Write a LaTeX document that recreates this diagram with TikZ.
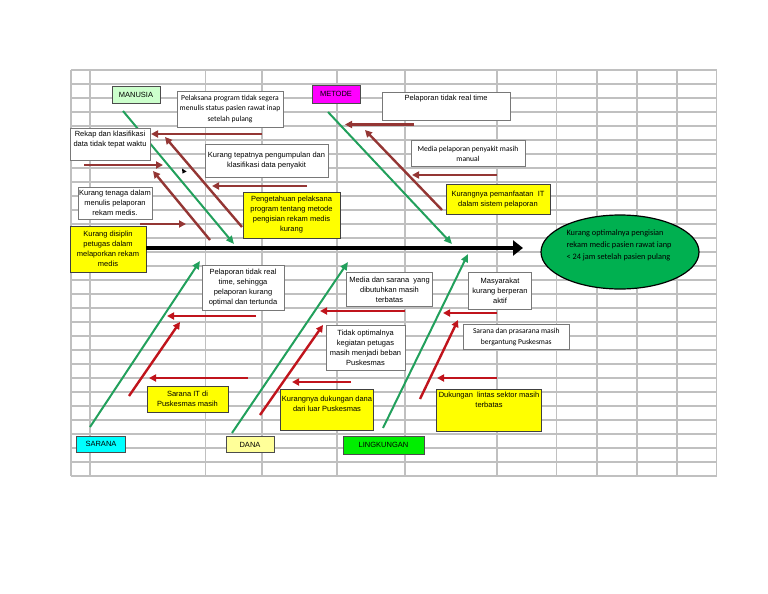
\documentclass[tikz,border=0pt]{standalone}
\usepackage{fontspec}
\setmainfont{Liberation Sans}
\newfontfamily\calibri{Carlito}
\usetikzlibrary{arrows.meta,shapes.geometric,positioning}
\definecolor{gridline}{RGB}{192,192,192}
\definecolor{bonegreen}{RGB}{34,160,92}
\definecolor{causebrown}{RGB}{148,54,52}
\definecolor{causered}{RGB}{192,20,28}
\definecolor{boxgray}{RGB}{120,120,120}
\definecolor{manusiafill}{RGB}{204,255,204}
\definecolor{metodefill}{RGB}{255,0,255}
\definecolor{saranafill}{RGB}{0,255,255}
\definecolor{danafill}{RGB}{255,255,153}
\definecolor{lingkunganfill}{RGB}{0,238,0}
\definecolor{effectfill}{RGB}{0,176,80}
\definecolor{notefill}{RGB}{255,255,0}

\tikzset{
  txt/.style={font=\fontsize{7.5}{10}\selectfont, align=center, inner sep=1pt},
  calibritxt/.style={font=\calibri\fontsize{7.6}{10.5}\selectfont, align=center, inner sep=1pt},
  whitebox/.style={draw=boxgray, line width=0.9pt, fill=white, inner sep=0pt},
  yellowbox/.style={draw=black!75, line width=0.9pt, fill=notefill, inner sep=0pt},
  catbox/.style={draw=black!70, line width=0.9pt, inner sep=0pt, font=\fontsize{7.5}{10}\selectfont},
  bone/.style={draw=bonegreen, line width=2pt, -{Triangle[length=8pt,width=7pt]}},
  upcause/.style={draw=causebrown, line width=2.4pt, -{Triangle[length=7pt,width=7pt]}},
  lowcause/.style={draw=causered, line width=2.4pt, -{Triangle[length=7pt,width=7pt]}},
  spine/.style={draw=black, line width=3.6pt, -{Triangle[length=10pt,width=15pt]}},
}

\begin{document}
\begin{tikzpicture}[x=1pt,y=-1pt]
\useasboundingbox (0,0) rectangle (768,594);

% worksheet grid
\foreach \gx in {71,90,205.5,262,337,405,497,556.5,597,637,677,716.5}
  \draw[gridline, line width=1.2pt] (\gx,70) -- (\gx,476);
\foreach \gy in {70,84,...,476}
  \draw[gridline, line width=1.2pt] (71,\gy) -- (716.5,\gy);

% bones (under the boxes)
\coordinate (mbone) at (123,111); \coordinate (mtip) at (234,244);
\draw[bone] (mbone) -- (mtip);
\coordinate (tbone) at (328,112); \coordinate (ttip) at (452,244);
\draw[bone] (tbone) -- (ttip);
\coordinate (sbone) at (90,427); \coordinate (stip) at (200,261);
\draw[bone] (sbone) -- (stip);
\coordinate (dbone) at (232,433); \coordinate (dtip) at (348,262);
\draw[bone] (dbone) -- (dtip);
\coordinate (lbone) at (383,428); \coordinate (ltip) at (468,254);
\draw[bone] (lbone) -- (ltip);

% categories
\node[catbox, fill=manusiafill, minimum width=48pt, minimum height=17pt] (manusia) at (136,94.5) {MANUSIA};
\node[catbox, fill=metodefill, minimum width=48pt, minimum height=18pt] (metode) at (336,94) {METODE};
\node[catbox, fill=saranafill, minimum width=49pt, minimum height=16pt] (sarana) at (101,444) {SARANA};
\node[catbox, fill=danafill, minimum width=48pt, minimum height=16pt] (dana) at (250,444.5) {DANA};
\node[catbox, fill=lingkunganfill, minimum width=81pt, minimum height=18pt] (lingkungan) at (383.5,445) {LINGKUNGAN};

% manusia
\node[whitebox, calibritxt, minimum width=106pt, minimum height=36pt] (pelaksana) at (230,109) {Pelaksana program tidak segera\\menulis status pasien rawat inap\\setelah pulang};
\node[whitebox, minimum width=80pt, minimum height=32pt] (rekap) at (110,144) {};
\node[txt, below=2pt of rekap.north] (rekaptxt) {Rekap dan klasifikasi\\data tidak tepat waktu};
\node[whitebox, txt, minimum width=123pt, minimum height=33pt] (tepat) at (266.5,160.5) {Kurang tepatnya pengumpulan dan\\klasifikasi data penyakit};
\node[whitebox, txt, minimum width=74pt, minimum height=32pt] (tenaga) at (115,203) {Kurang tenaga dalam\\menulis pelaporan\\rekam medis.};
\node[yellowbox, txt, minimum width=97pt, minimum height=46pt] (pengetahuan) at (291.5,215) {Pengetahuan pelaksana\\program tentang metode\\pengisian rekam medis\\kurang};
\node[yellowbox, txt, minimum width=76pt, minimum height=46pt] (disiplin) at (108,249) {Kurang disiplin\\petugas dalam\\melaporkan rekam\\medis};

% metode
\node[whitebox, minimum width=128pt, minimum height=28pt] (realtime) at (446,106) {};
\node[txt, below=2pt of realtime.north] (realtimetxt) {Pelaporan tidak real time};
\node[whitebox, calibritxt, minimum width=114pt, minimum height=26pt] (manual) at (468,153.7) {Media pelaporan penyakit masih\\manual};
\node[yellowbox, txt, minimum width=104pt, minimum height=30pt] (pemanfaatan) at (498,199.3) {Kurangnya pemanfaatan~ IT\\dalam sistem pelaporan};

% sarana
\node[whitebox, txt, minimum width=82pt, minimum height=45pt] (tertunda) at (243,287.5) {Pelaporan tidak real\\time, sehingga\\pelaporan kurang\\optimal dan tertunda};
\node[yellowbox, txt, minimum width=81pt, minimum height=26pt] (saranait) at (187.5,399) {Sarana IT di\\Puskesmas masih};

% dana
\node[whitebox, txt, minimum width=86pt, minimum height=34pt] (mediasarana) at (389.5,289.7) {Media dan sarana~ yang\\dibutuhkan masih\\terbatas};
\node[whitebox, txt, minimum width=79pt, minimum height=45pt] (beban) at (365.5,348.3) {Tidak optimalnya\\kegiatan petugas\\masih menjadi beban\\Puskesmas};
\node[yellowbox, minimum width=93pt, minimum height=41pt] (dukungandana) at (327,410.3) {};
\node[txt, below=5.5pt of dukungandana.north] (dukungandanatxt) {Kurangnya dukungan dana\\dari luar Puskesmas};

% lingkungan
\node[whitebox, txt, minimum width=63pt, minimum height=37pt] (masyarakat) at (500,291.3) {Masyarakat\\kurang berperan\\aktif};
\node[whitebox, calibritxt, minimum width=106pt, minimum height=25pt] (prasarana) at (516.3,336.8) {Sarana dan prasarana masih\\bergantung Puskesmas};
\node[yellowbox, minimum width=105pt, minimum height=42pt] (lintas) at (489,410) {};
\node[txt, below=2pt of lintas.north] (lintastxt) {Dukungan~ lintas sektor masih\\terbatas};

% effect
\node[ellipse, draw=black, line width=1.2pt, fill=effectfill, minimum width=158pt, minimum height=74pt] (effect) at (620,252) {};
\node[font=\calibri\fontsize{8.3}{12}\selectfont, align=left, text=black] (effecttxt) at (619,245) {Kurang optimalnya pengisian\\rekam medic pasien rawat ianp\\< 24 jam setelah pasien pulang};

% spine
\coordinate (head) at (523,248);
\draw[spine] (disiplin.east |- head) -- (head);

% causes above
\coordinate (r1a) at (262,134); \coordinate (r1b) at (151,134);
\draw[upcause] (r1a) -- (r1b);
\coordinate (r2a) at (84,165); \coordinate (r2b) at (163,165);
\draw[upcause] (r2a) -- (r2b);
\coordinate (r3a) at (242,227); \coordinate (r3b) at (165,137);
\draw[upcause] (r3a) -- (r3b);
\coordinate (r4a) at (210,240); \coordinate (r4b) at (153,171);
\draw[upcause] (r4a) -- (r4b);
\coordinate (r5a) at (307,186); \coordinate (r5b) at (212,186);
\draw[upcause] (r5a) -- (r5b);
\coordinate (r6a) at (140,224); \coordinate (r6b) at (186,224);
\draw[upcause] (r6a) -- (r6b);
\coordinate (r7a) at (414,124.5); \coordinate (r7b) at (345,124.5);
\draw[upcause] (r7a) -- (r7b);
\coordinate (r8a) at (442,210); \coordinate (r8b) at (365,130);
\draw[upcause] (r8a) -- (r8b);
\coordinate (r9a) at (497,175); \coordinate (r9b) at (412,175);
\draw[upcause] (r9a) -- (r9b);
\fill (182,168.5) -- (186.5,171.5) -- (182.5,173.5) -- cycle;

% causes below
\coordinate (r10a) at (256,316); \coordinate (r10b) at (167,316);
\draw[lowcause] (r10a) -- (r10b);
\coordinate (r11a) at (129,396); \coordinate (r11b) at (180,322);
\draw[lowcause] (r11a) -- (r11b);
\coordinate (r12a) at (248,378); \coordinate (r12b) at (149,378);
\draw[lowcause] (r12a) -- (r12b);
\coordinate (r13a) at (405,311); \coordinate (r13b) at (320,311);
\draw[lowcause] (r13a) -- (r13b);
\coordinate (r14a) at (260,415); \coordinate (r14b) at (323,325);
\draw[lowcause] (r14a) -- (r14b);
\coordinate (r15a) at (351,382); \coordinate (r15b) at (292,382);
\draw[lowcause] (r15a) -- (r15b);
\coordinate (r16a) at (497,313); \coordinate (r16b) at (443,313);
\draw[lowcause] (r16a) -- (r16b);
\coordinate (r17a) at (420,399); \coordinate (r17b) at (458,320);
\draw[lowcause] (r17a) -- (r17b);
\coordinate (r18a) at (497,378); \coordinate (r18b) at (437,378);
\draw[lowcause] (r18a) -- (r18b);
\end{tikzpicture}
\end{document}
